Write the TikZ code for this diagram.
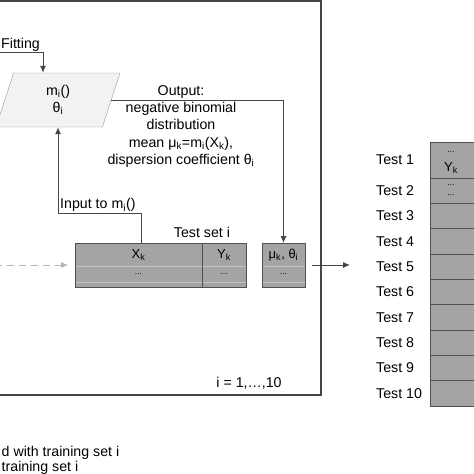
\documentclass[tikz,border=0pt]{standalone}
\usepackage{fontspec}
\setmainfont{Liberation Sans}
\usetikzlibrary{positioning,calc,arrows.meta,shapes.geometric}
\definecolor{lineg}{HTML}{454545}
\definecolor{cellg}{HTML}{A4A4A4}
\definecolor{celledge}{HTML}{505050}
\definecolor{rowg}{HTML}{C4C4C4}
\definecolor{dashg}{HTML}{B4B4B4}
\tikzset{
  conn/.style={draw=lineg, line width=1pt, -{Latex[length=7pt,width=6pt]}},
  cell/.style={draw=celledge, fill=cellg, line width=0.9pt, inner sep=0pt, outer sep=0pt},
  txt/.style={font=\fontsize{14.2}{17.2}\selectfont, inner sep=1pt},
  celltxt/.style={font=\fontsize{13}{14}\selectfont, inner sep=0pt},
  dots/.style={font=\fontsize{8.5}{8.5}\selectfont, inner sep=0pt},
  rowln/.style={draw=rowg, line width=0.8pt}
}

\begin{document}
\begin{tikzpicture}[x=1pt, y=-1pt]
\useasboundingbox (0,0) rectangle (474,474);
\node[draw=lineg, line width=1.6pt, minimum width=335pt, minimum height=394pt, inner sep=0pt] (loop) at (153.5,198) {};
\node[trapezium, trapezium left angle=61, trapezium right angle=119, trapezium stretches body,
      draw=black!40, fill=black!5, minimum width=124pt, minimum height=54pt, inner sep=0pt,
      align=center, txt] (para) at (58,100) {m\textsubscript{i}()\\θ\textsubscript{i}};
\node[txt, anchor=base west] (fitlbl) at (0,48) {Fitting};
\coordinate (fitstart) at (-10,52);
\draw[conn] (fitstart) -| ($(para.center |- para.north)+(-15,0)$);

\node[cell, minimum width=127pt, minimum height=44pt] (xk) at (138.5,265) {};
\node[cell, minimum width=44pt, minimum height=44pt, right=0pt of xk] (yk) {};
\node[cell, minimum width=43pt, minimum height=44pt, right=16pt of yk] (mu) {};
\draw[rowln] ([yshift=-23pt]xk.north west) -- ([yshift=-23pt]yk.north east);
\draw[rowln] ([yshift=-39pt]xk.north west) -- ([yshift=-39pt]yk.north east);
\draw[rowln] ([yshift=-23pt]mu.north west) -- ([yshift=-23pt]mu.north east);
\draw[rowln] ([yshift=-39pt]mu.north west) -- ([yshift=-39pt]mu.north east);
\draw[celledge, line width=0.9pt] (xk.north west) rectangle (yk.south east) (xk.north east) -- (xk.south east);
\draw[celledge, line width=0.9pt] (mu.north west) rectangle (mu.south east);
\node[celltxt] (xkt) at ([yshift=-12pt]xk.north) {X\textsubscript{k}};
\node[dots] (xkd) at ([yshift=-31pt]xk.north) {...};
\node[celltxt] (ykt) at ([yshift=-12pt]yk.north) {Y\textsubscript{k}};
\node[dots] (ykd) at ([yshift=-31pt]yk.north) {...};
\node[celltxt] (mut) at ([yshift=-12pt]mu.north) {μ\textsubscript{k}, θ\textsubscript{i}};
\node[dots] (mud) at ([yshift=-31pt]mu.north) {...};
\node[txt, above=4.5pt of xk.north east] (tslbl) {Test set i};

\draw[conn] (para.east) -| (mu.north);
\node[txt, align=center] (outtxt) at (181,126.5)
  {Output:\\negative binomial\\distribution\\mean μ\textsubscript{k}=m\textsubscript{i}(X\textsubscript{k}),\\dispersion coefficient θ\textsubscript{i}};

\coordinate (inbend) at ($(para.center |- xk.north)+(0,-30)$);
\draw[conn] ([xshift=2.5pt]xk.north) |- (inbend) -- (para.center |- para.south);
\node[txt, anchor=south west] (inlbl) at ([xshift=1pt]inbend) {Input to m\textsubscript{i}()};

\coordinate (dstart) at (-5,265);
\draw[draw=dashg, line width=1pt, dash pattern=on 7pt off 5pt, -{Latex[length=7pt,width=6pt]}, dashg]
  (dstart) -- ([xshift=-7pt]xk.west);

\node[cell, minimum width=56pt, minimum height=36pt, anchor=north west] (c1) at (430,142) {};
\foreach \i [count=\j from 1] in {2,...,10}
  \node[cell, minimum width=56pt, minimum height=25.33pt, below=0pt of c\j] (c\i) {};
\coordinate (lblx) at (375,0);
\foreach \i in {1,...,10}
  \node[txt, anchor=west] (lbl\i) at (lblx |- c\i.west) {Test \i};
\node[dots] (c1d) at ([xshift=21pt,yshift=-10pt]c1.north west) {...};
\node[celltxt] (c1y) at ([xshift=21pt,yshift=-26pt]c1.north west) {Y\textsubscript{k}};
\node[dots] (c2d) at ([xshift=21pt,yshift=-7pt]c2.north west) {...};
\node[dots] (c2e) at ([xshift=21pt,yshift=-17pt]c2.north west) {...};

\draw[conn] ([xshift=7pt]mu.east) -- ($(mu.east -| lbl5.west)+(-25,0)$);
\node[txt, anchor=base east] (ilbl) at ($(loop.south east)+(-39,-8)$) {i = 1,…,10};

\node[txt, anchor=base west] (leg1) at (0.5,456) {d with training set i};
\node[txt, anchor=base west] (leg2) at (0.5,471) {training set i};
\end{tikzpicture}
\end{document}
